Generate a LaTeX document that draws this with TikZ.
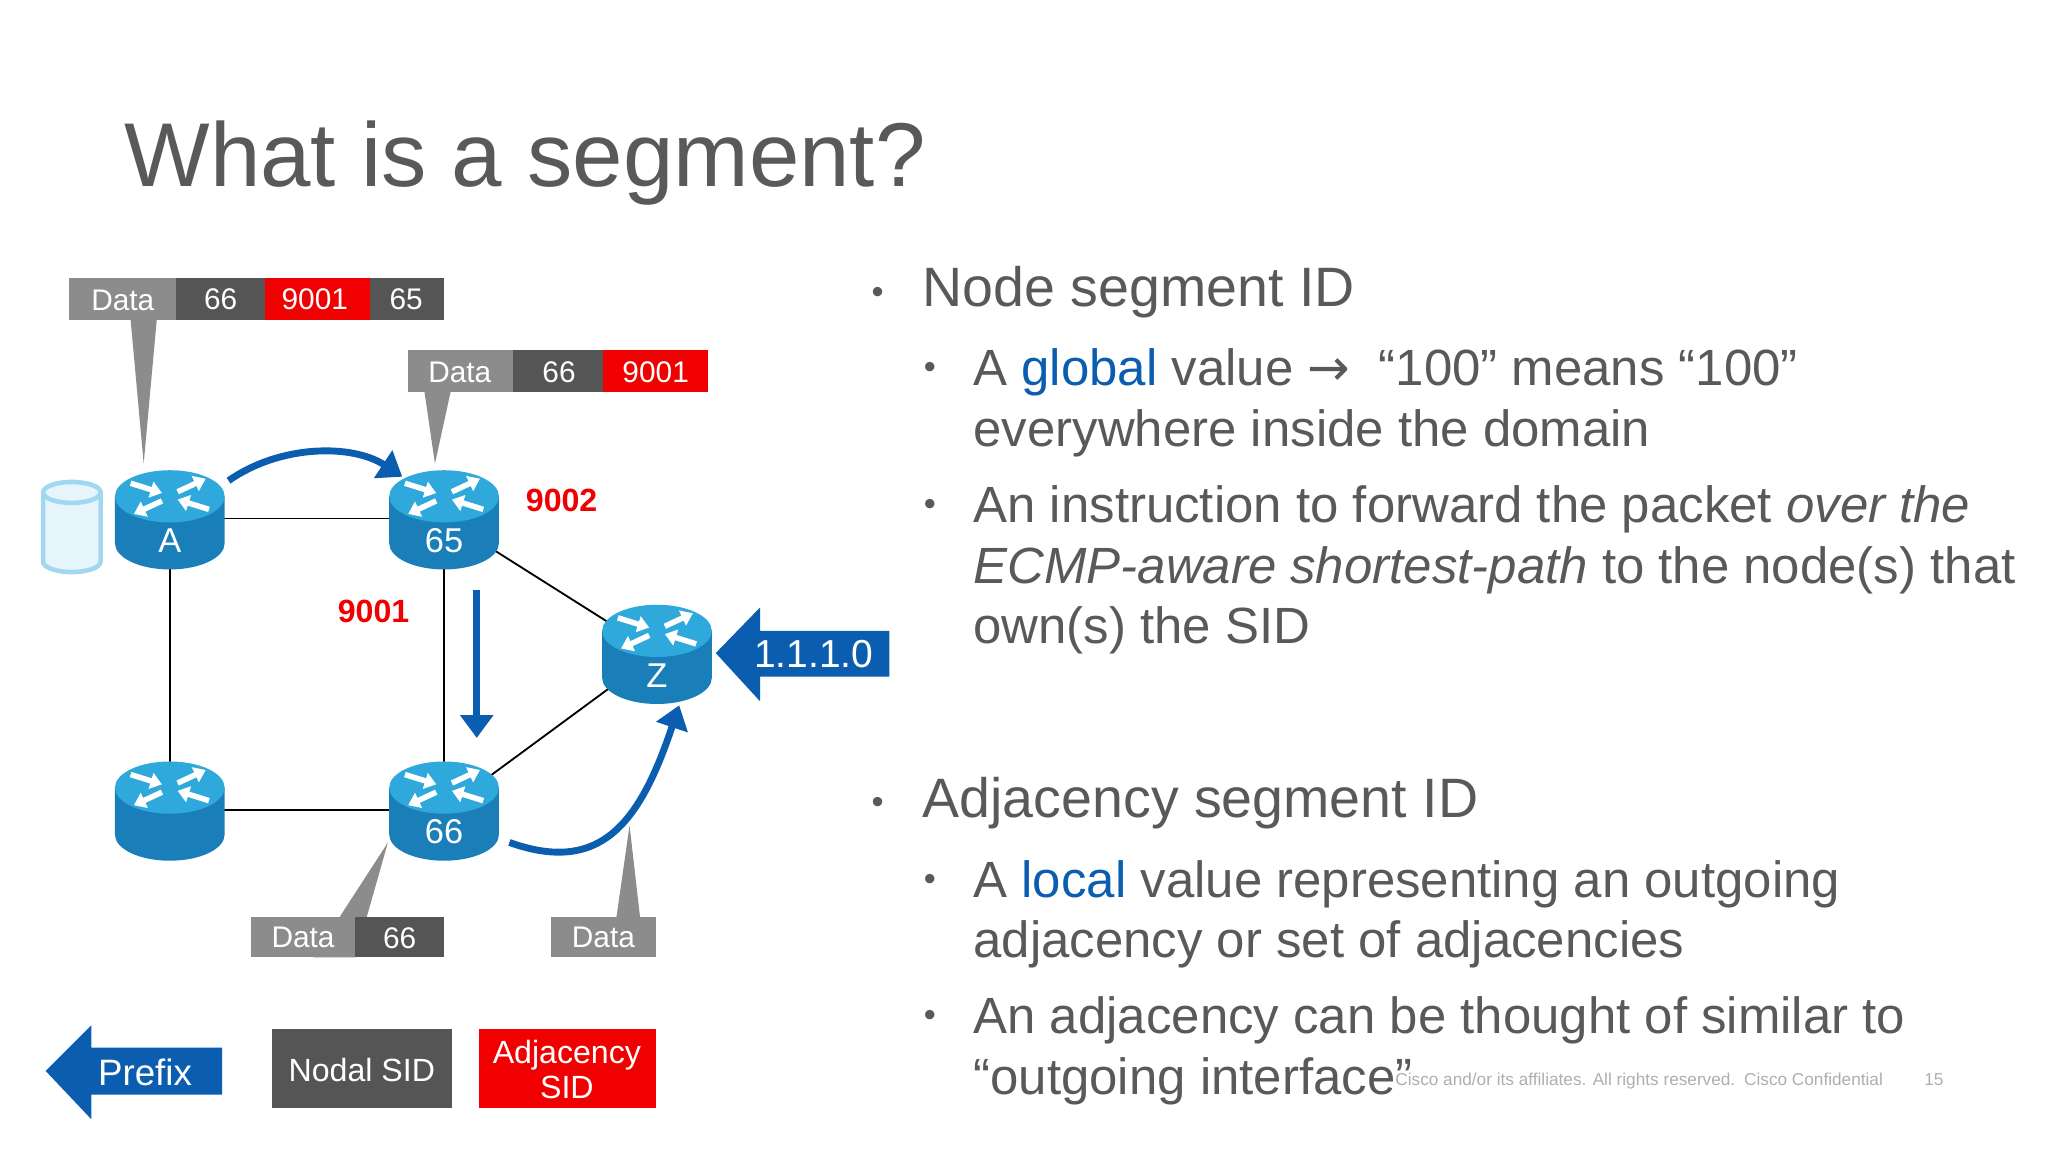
\documentclass[tikz,border=0pt]{standalone}
\usepackage{fontspec}
\setmainfont{Liberation Sans}
\newfontfamily\djv{DejaVu Sans}
\usetikzlibrary{arrows.meta}
\definecolor{dg}{HTML}{555555}
\definecolor{lg}{HTML}{8C8C8C}
\definecolor{rd}{HTML}{F00000}
\definecolor{cb}{HTML}{0B5DB0}
\definecolor{rtop}{HTML}{2FA8DB}
\definecolor{rbody}{HTML}{1A7FB8}
\definecolor{txt}{HTML}{595959}
\tikzset{
 rtr/.pic={
  \fill[rbody] (-.84cm,0cm) -- (-.84cm,-.72cm) arc[start angle=180,end angle=360,x radius=.84cm,y radius=.4cm] -- (.84cm,0cm) -- cycle;
  \fill[rtop] (0cm,0cm) ellipse [x radius=.84cm,y radius=.4cm];
  \begin{scope}[white,line width=2.4pt,-{Triangle[length=5pt,width=7pt]}]
   \draw (-.6cm,.2cm) -- (-.12cm,.05cm);
   \draw (.6cm,-.2cm) -- (.12cm,-.05cm);
   \draw (.12cm,.07cm) -- (.55cm,.27cm);
   \draw (-.12cm,-.07cm) -- (-.55cm,-.27cm);
  \end{scope}
  \node[white,font=\fontsize{15}{15}\selectfont] at (0cm,-.68cm) {\tikzpictext};
 },
 lbl/.style={font=\fontsize{13}{13}\selectfont,white,inner sep=0pt},
 edge/.style={black,line width=0.8pt},
 barrow/.style={cb,line width=3pt,-{Triangle[length=10pt,width=14pt]}},
 bul/.style={anchor=base west,text=txt,inner sep=0pt},
 big/.style={font=\fontsize{24.2}{24.2}\selectfont},
 mid/.style={font=\fontsize{22.2}{22.2}\selectfont},
 dot/.style={anchor=base west,text=txt,inner sep=0pt,font=\fontsize{15}{15}\selectfont},
}
\begin{document}
\begin{tikzpicture}[x=0.02cm,y=-0.02cm]
\useasboundingbox (0,0) rectangle (1568,882);
\node[anchor=base west,text=txt,inner sep=0pt,font=\fontsize{39.5}{39.5}\selectfont] (title) at (95,143) {What is a segment?};
% coordinates
\coordinate (A) at (130,397); \coordinate (R65) at (340,397);
\coordinate (Z) at (503,500); \coordinate (BL) at (130,620); \coordinate (R66) at (340,620);
\draw[edge] (A) -- (R65); \draw[edge] (A) -- (BL); \draw[edge] (R65) -- (R66);
\draw[edge] (BL) -- (R66); \draw[edge] (R65) -- (Z); \draw[edge] (R66) -- (Z);
% callouts
\fill[lg] (100,245) -- (120,245) -- (110,355) -- cycle;
\fill[lg] (325,300) -- (345,300) -- (333,355) -- cycle;
\fill[lg] (240,733) -- (272,733) -- (297,645) -- cycle;
\fill[lg] (472,702) -- (490,702) -- (482,632) -- cycle;
% routers
\pic[pic text=A] at (130,380) {rtr};
\pic[pic text=65] at (340,380) {rtr};
\pic[pic text=Z] at (503,483) {rtr};
\pic[pic text={}] at (130,603) {rtr};
\pic[pic text=66] at (340,603) {rtr};
% db
\draw[rtop!45,fill=rtop!12,line width=2pt] (33,377) -- (33,430) arc[start angle=180,end angle=360,x radius=22,y radius=-8] -- (77,377);
\draw[rtop!45,fill=rtop!12,line width=2pt] (55,377) ellipse [x radius=22,y radius=8];
% label boxes
\fill[lg] (53,213) rectangle (135,245); \node[lbl] at (94,230) {Data};
\fill[dg] (135,213) rectangle (203,245); \node[lbl] at (169,229) {66};
\fill[rd] (203,213) rectangle (283,245); \node[lbl] at (241,229) {9001};
\fill[dg] (283,213) rectangle (340,245); \node[lbl] at (311,229) {65};
\fill[lg] (312,268) rectangle (393,300); \node[lbl] at (352,285) {Data};
\fill[dg] (393,268) rectangle (462,300); \node[lbl] at (428,285) {66};
\fill[rd] (462,268) rectangle (542,300); \node[lbl] at (502,285) {9001};
\fill[lg] (192,702) rectangle (272,733); \node[lbl] at (232,718) {Data};
\fill[dg] (272,702) rectangle (340,733); \node[lbl] at (306,718) {66};
\fill[lg] (422,702) rectangle (502,733); \node[lbl] at (462,718) {Data};
% numbers
\node[rd,font=\bfseries\fontsize{14}{14}\selectfont] (n9002) at (430,383) {9002};
\node[rd,font=\bfseries\fontsize{14}{14}\selectfont] (n9001) at (286,468) {9001};
% blue arrows
\draw[barrow] (175,368) .. controls (215,340) and (270,340) .. (308,365);
\draw[barrow] (365,452) -- (365,565);
\draw[barrow] (390,645) .. controls (460,670) and (490,630) .. (520,540);
% 1.1.1.0
\fill[cb] (548,500) -- (582,465) -- (582,483) -- (681,483) -- (681,518) -- (582,518) -- (582,537) -- cycle;
\node[white,font=\fontsize{17}{17}\selectfont] (pfx) at (623,501) {1.1.1.0};
% legend
\fill[cb] (35,820) -- (70,785) -- (70,802) -- (170,802) -- (170,838) -- (70,838) -- (70,857) -- cycle;
\node[white,font=\fontsize{16}{16}\selectfont] (leg1) at (111,821) {Prefix};
\fill[dg] (208,788) rectangle (346,848); \node[white,font=\fontsize{14}{14}\selectfont] (leg2) at (277,819) {Nodal SID};
\fill[rd] (367,788) rectangle (502,848); \node[white,font=\fontsize{14}{15}\selectfont,align=center] (leg3) at (434,819) {Adjacency\\SID};
% bullets
\node[dot] at (667,232) {•};
\node[bul,big] (b1) at (706,235) {Node segment ID};
\node[dot] at (707,290) {•};
\node[bul,mid] (b11) at (745,295) {A \textcolor{cb}{global} value {\djv →}\ \ “100” means “100”};
\node[bul,mid] at (745,342) {everywhere inside the domain};
\node[dot] at (707,395) {•};
\node[bul,mid] at (745,400) {An instruction to forward the packet \textit{over the}};
\node[bul,mid] at (745,447) {\textit{ECMP-aware shortest-path} to the node(s) that};
\node[bul,mid] at (745,493) {own(s) the SID};
\node[dot] at (667,623) {•};
\node[bul,big] (b2) at (706,626) {Adjacency segment ID};
\node[dot] at (707,682) {•};
\node[bul,mid] at (745,687) {A \textcolor{cb}{local} value representing an outgoing};
\node[bul,mid] at (745,733) {adjacency or set of adjacencies};
\node[dot] at (707,786) {•};
\node[bul,mid] at (745,791) {An adjacency can be thought of similar to};
\node[bul,mid] at (745,838) {“outgoing interface”};
\begin{scope}[every node/.style={anchor=base west,text=lg!70,inner sep=0pt,font=\fontsize{7.5}{7.5}\selectfont}]
\node at (1068,831) {Cisco and/or its affiliates. All rights reserved.};
\node at (1335,831) {Cisco Confidential};
\node at (1473,831) {15};
\end{scope}
\end{tikzpicture}
\end{document}
